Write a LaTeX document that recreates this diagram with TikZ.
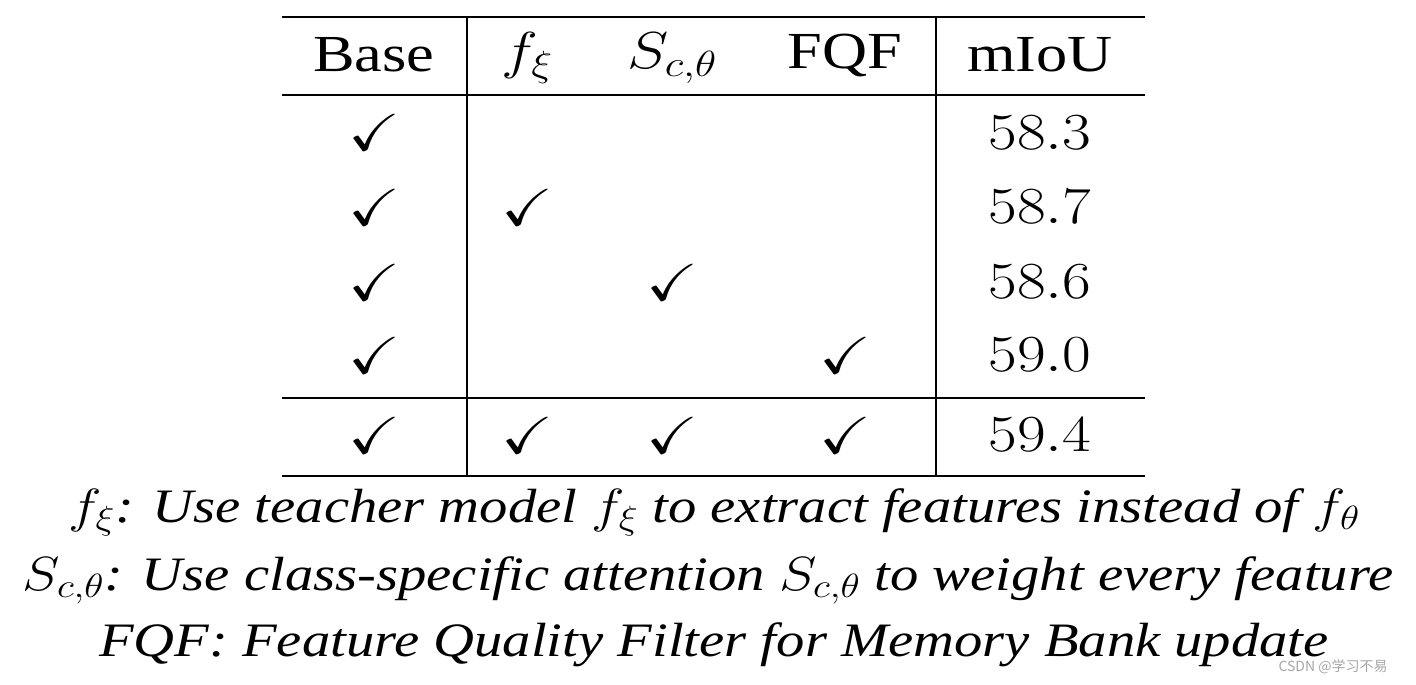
\RequirePackage{fix-cm}
\documentclass[tikz,border=0pt]{standalone}
\usepackage{amssymb}
\usepackage{fontspec}
\setmainfont{Liberation Serif}
\newfontfamily\cjk{Noto Sans CJK SC}
\begin{document}
\begin{tikzpicture}[x=1pt,y=-1pt,
  tbl/.style={font=\fontsize{52}{60}\selectfont, inner sep=0pt, anchor=center, xscale=1.2},
  captxt/.style={font=\fontsize{48}{56}\selectfont\itshape, inner sep=0pt, anchor=center, xscale=1.18},
  rule/.style={line width=2pt}]
\useasboundingbox (0,0) rectangle (1416,685);
\draw[rule] (282,17) -- (1145,17);
\draw[rule] (282,95) -- (1145,95);
\draw[rule] (282,398) -- (1145,398);
\draw[rule] (282,476) -- (1145,476);
\draw[rule] (467,17) -- (467,476);
\draw[rule] (936,17) -- (936,476);
\node[tbl] (h1) at (374,55) {Base};
\node[tbl] (h2) at (527,58) {$f_\xi$};
\node[tbl] (h3) at (672,58) {$S_{c,\theta}$};
\node[tbl] (h4) at (845,55) {FQF};
\node[tbl] (h5) at (1040,55) {mIoU};
\foreach \y/\v [count=\i] in {133/58.3,207/58.7,282/58.6,355/59.0,435/59.4}{
  \node[tbl] (b\i) at (374,\y) {$\checkmark$};
  \node[tbl] (m\i) at (1040,\y) {$\v$};
}
\node[tbl] (c2) at (527,207) {$\checkmark$};
\node[tbl] (c3) at (672,282) {$\checkmark$};
\node[tbl] (c4) at (845,355) {$\checkmark$};
\node[tbl] (d2) at (527,435) {$\checkmark$};
\node[tbl] (d3) at (672,435) {$\checkmark$};
\node[tbl] (d4) at (845,435) {$\checkmark$};
\node[captxt] (l1) at (714,512) {$f_\xi$: Use teacher model $f_\xi$ to extract features instead of $f_\theta$};
\node[captxt] (l2) at (708,580) {$S_{c,\theta}$: Use class-specific attention $S_{c,\theta}$ to weight every feature};
\node[captxt] (l3) at (714,645) {FQF: Feature Quality Filter for Memory Bank update};
\node[font=\fontsize{14}{16}\selectfont\cjk, text=gray!70, inner sep=0pt] (wm) at (1333,667) {CSDN @学习不易};
\end{tikzpicture}
\end{document}
